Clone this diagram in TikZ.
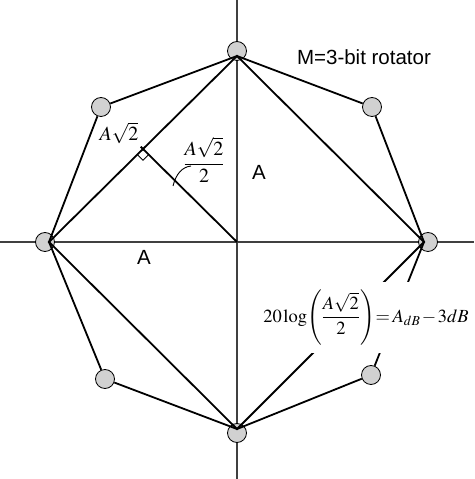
\documentclass[tikz,border=0pt]{standalone}
\usepackage{amsmath}
\usepackage{mathptmx}
\usepackage[no-math]{fontspec}
\setmainfont{Liberation Serif}
\newfontfamily\lsans{Liberation Sans}
\usetikzlibrary{calc}
\begin{document}
\begin{tikzpicture}[x=1pt,y=1pt,
  axis/.style={line width=1.1pt, draw=black!75},
  edge/.style={line width=1.8pt, line join=miter},
  thinl/.style={line width=0.9pt},
  dot/.style={circle, draw=black, line width=0.8pt, fill=black!18, minimum size=19pt, inner sep=0pt},
  lab/.style={font=\lsans\fontsize{20.5}{20.5}\selectfont, inner sep=0pt},
  mlab/.style={font=\fontsize{20}{20}\selectfont, inner sep=0pt}]
\useasboundingbox (0,0) rectangle (474,479);
\coordinate (C) at (237,237);
% axes
\coordinate (xl) at (0,237); \coordinate (xr) at (474,237);
\coordinate (yb) at (237,0); \coordinate (yt) at (237,479);
\draw[axis] (xl) -- (xr);
\draw[axis] (yb) -- (yt);
% dots
\node[dot] (dT) at (237,428) {};
\node[dot] (dL) at (45,237) {};
\node[dot] (dR) at (428,237) {};
\node[dot] (dB) at (237,46) {};
\node[dot] (dUL) at (101,372) {};
\node[dot] (dUR) at (372,372) {};
\node[dot] (dLL) at (105,100) {};
\node[dot] (dLR) at (371,104) {};
% square vertices
\coordinate (T) at (237,423);
\coordinate (L) at (49,237);
\coordinate (R) at (424,237);
\coordinate (B) at (237,50);
% octagon edges
\draw[edge] (dUL) -- (T) -- (dUR);
\draw[edge] (dUR) -- (R) -- (dLR);
\draw[edge] (dLR) -- (B) -- (dLL);
\draw[edge] (dLL) -- (L) -- (dUL);
% square
\draw[edge] (T) -- (L) -- (B) -- (R) -- cycle;
% perpendicular
\coordinate (F) at ($(T)!0.5!(L)$);
\coordinate (Fx) at ($(C)!1.025!(F)$);
\draw[edge] (C) -- (Fx);
\coordinate (m1) at ($(F)!8pt!(L)$);
\coordinate (m3) at ($(F)!8pt!(C)$);
\coordinate (m2) at ($(m1)+(m3)-(F)$);
\draw[thinl] (m1) -- (m2) -- (m3);
% labels
\node[mlab] (l1) at (119,346) {$A\sqrt{2}$};
\node[mlab] (l2) at (204,319) {$\dfrac{A\sqrt{2}}{2}$};
\coordinate (k1) at (173,293);
\coordinate (k2) at (191,313);
\draw[thinl] (k1) .. controls (176,305) and (182,312) .. (k2);
\node[lab] (a1) at (259,307) {A};
\node[lab] (a2) at (144,222) {A};
\node[lab] (title) at (364,422) {M=3-bit rotator};
\node[fill=white, minimum height=71pt, minimum width=210pt, inner xsep=0pt, inner ysep=0pt] (eq) at (366,161.5)
  {\fontsize{18.5}{18.5}\selectfont\medmuskip=1.5mu\thickmuskip=2.5mu\thinmuskip=1.5mu\raisebox{3pt}{$20\log\!\left(\dfrac{A\sqrt{2}}{2}\right)\!=A_{dB}-3dB$}};
\end{tikzpicture}
\end{document}
